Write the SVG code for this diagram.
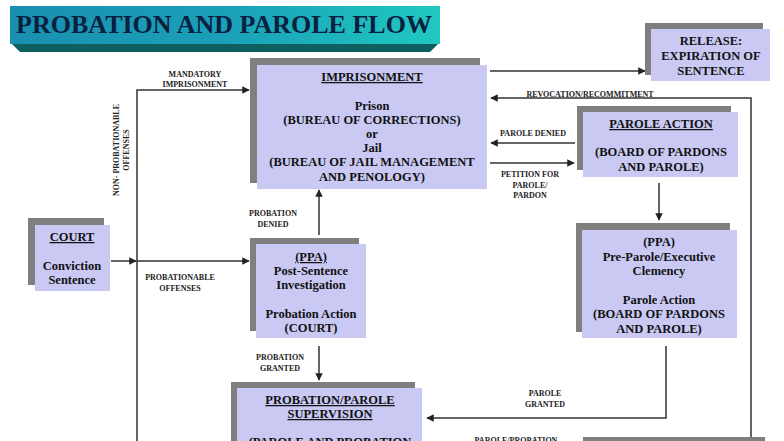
<svg xmlns="http://www.w3.org/2000/svg" width="784" height="441" viewBox="0 0 784 441">
<defs>
<linearGradient id="tg" x1="0" y1="0" x2="1" y2="0"><stop offset="0" stop-color="#1a8fb0"/><stop offset="0.5" stop-color="#1aa0b8"/><stop offset="1" stop-color="#20c8c0"/></linearGradient>
<marker id="a" viewBox="0 0 10 10" refX="9" refY="5" markerWidth="5" markerHeight="5" orient="auto"><path d="M0,0L10,5L0,10z" fill="#222"/></marker>
<style>
.sh{fill:#7f7f80}.bx{fill:#c9c9f4}
.t{font-family:'Liberation Serif',serif;font-weight:bold;font-size:12.5px;fill:#111;text-anchor:middle}
.u{text-decoration:underline}
.l{font-family:'Liberation Serif',serif;font-weight:bold;font-size:8px;fill:#222;text-anchor:middle}
.c{stroke:#333;stroke-width:1.5;fill:none}
</style>
</defs>
<g id="title">
<path d="M10,42 L440,42 L430,52 L20,52z" fill="#0f5f60"/>
<rect x="10" y="6" width="430" height="38" fill="url(#tg)"/>
<text x="224" y="33" font-family="'Liberation Serif',serif" font-weight="bold" font-size="26" fill="#0a2040" text-anchor="middle">PROBATION AND PAROLE FLOW</text>
</g>
<g id="connectors">
<path class="c" d="M137,441 V90 H249" marker-end="url(#a)"/>
<path class="c" d="M111,261 H136" marker-end="url(#a)"/>
<path class="c" d="M137,261 H249" marker-end="url(#a)"/>
<path class="c" d="M319,235 V190" marker-end="url(#a)"/>
<path class="c" d="M319,346 V380" marker-end="url(#a)"/>
<path class="c" d="M490,71 H645" marker-end="url(#a)"/>
<path class="c" d="M751,441 V98 H491" marker-end="url(#a)"/>
<path class="c" d="M575,143 H491" marker-end="url(#a)"/>
<path class="c" d="M490,163 H574" marker-end="url(#a)"/>
<path class="c" d="M659,183 V220" marker-end="url(#a)"/>
<path class="c" d="M666,346 V418 H427" marker-end="url(#a)"/>
</g>
<g id="labels">
<text class="l" x="195" y="77">MANDATORY</text><text class="l" x="195" y="87">IMPRISONMENT</text>
<text class="l" transform="translate(119,150) rotate(-90)">NON- PROBATIONABLE</text>
<text class="l" transform="translate(129,150) rotate(-90)">OFFENSES</text>
<text class="l" x="180" y="280">PROBATIONABLE</text><text class="l" x="180" y="291">OFFENSES</text>
<text class="l" x="273" y="216">PROBATION</text><text class="l" x="273" y="227">DENIED</text>
<text class="l" x="280" y="360">PROBATION</text><text class="l" x="280" y="371">GRANTED</text>
<text class="l" x="590" y="97">REVOCATION/RECOMMITMENT</text>
<text class="l" x="533" y="136">PAROLE DENIED</text>
<text class="l" x="530" y="177">PETITION FOR</text><text class="l" x="530" y="188">PAROLE/</text><text class="l" x="530" y="198">PARDON</text>
<text class="l" x="545" y="396">PAROLE</text><text class="l" x="545" y="407">GRANTED</text>
<text class="l" x="516" y="443">PAROLE/PROBATION</text>
</g>
<g id="imprisonment">
<rect class="sh" x="250" y="58" width="230" height="125"/><rect class="bx" x="257" y="65" width="230" height="124"/>
<text class="t u" x="372" y="81">IMPRISONMENT</text>
<text class="t" x="372" y="110">Prison</text><text class="t" x="372" y="124">(BUREAU OF CORRECTIONS)</text>
<text class="t" x="372" y="138">or</text><text class="t" x="372" y="152">Jail</text>
<text class="t" x="372" y="166">(BUREAU OF JAIL MANAGEMENT</text><text class="t" x="372" y="181">AND PENOLOGY)</text>
</g>
<g id="release">
<rect class="sh" x="645" y="23" width="118" height="52"/><rect class="bx" x="651" y="29" width="119" height="52"/>
<text class="t" x="711" y="45">RELEASE:</text><text class="t" x="711" y="60">EXPIRATION OF</text><text class="t" x="711" y="75">SENTENCE</text>
</g>
<g id="parole-action">
<rect class="sh" x="577" y="106" width="154" height="64"/><rect class="bx" x="583" y="112" width="155" height="65"/>
<text class="t u" x="661" y="128">PAROLE ACTION</text>
<text class="t" x="661" y="156">(BOARD OF PARDONS</text><text class="t" x="661" y="171">AND PAROLE)</text>
</g>
<g id="pre-parole">
<rect class="sh" x="576" y="223" width="154" height="109"/><rect class="bx" x="582" y="230" width="155" height="108"/>
<text class="t" x="659" y="246">(PPA)</text><text class="t" x="659" y="261">Pre-Parole/Executive</text><text class="t" x="659" y="275">Clemency</text>
<text class="t" x="659" y="304">Parole Action</text><text class="t" x="659" y="318">(BOARD OF PARDONS</text><text class="t" x="659" y="333">AND PAROLE)</text>
</g>
<g id="court">
<rect class="sh" x="28" y="218" width="76" height="67"/><rect class="bx" x="35" y="225" width="75" height="66"/>
<text class="t u" x="72" y="241">COURT</text><text class="t" x="72" y="270">Conviction</text><text class="t" x="72" y="284">Sentence</text>
</g>
<g id="post-sentence">
<rect class="sh" x="250" y="238" width="109" height="93"/><rect class="bx" x="256" y="244" width="110" height="94"/>
<text class="t u" x="311" y="261">(PPA)</text><text class="t" x="311" y="275">Post-Sentence</text><text class="t" x="311" y="289">Investigation</text>
<text class="t" x="311" y="318">Probation Action</text><text class="t" x="311" y="332">(COURT)</text>
</g>
<g id="supervision">
<rect class="sh" x="231" y="382" width="184" height="59"/><rect class="bx" x="237" y="388" width="185" height="53"/>
<text class="t u" x="330" y="404">PROBATION/PAROLE</text><text class="t u" x="330" y="418">SUPERVISION</text>
<text class="t" x="330" y="446">(PAROLE AND PROBATION</text>
</g>
<g id="bottom-right"><rect class="sh" x="583" y="437" width="182" height="4"/></g>
</svg>
